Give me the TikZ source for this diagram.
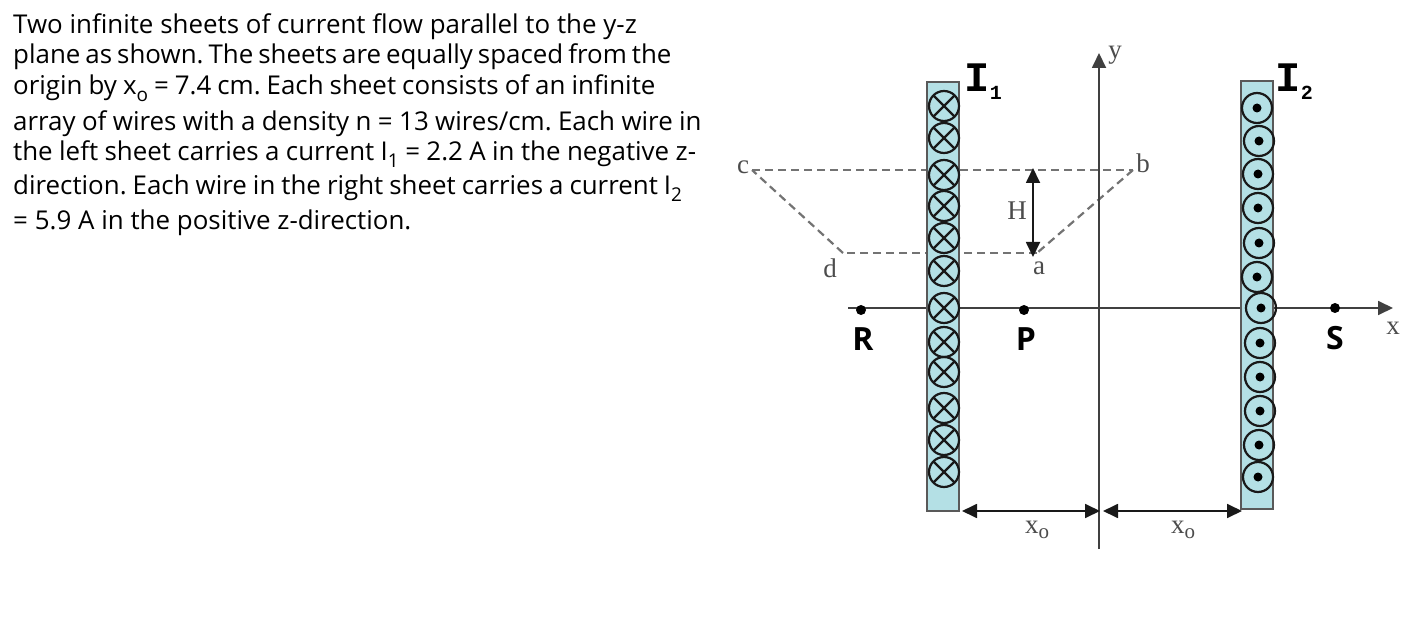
\documentclass[tikz,border=0pt]{standalone}
\usepackage{fontspec}
\setmainfont{Open Sans}
\newfontfamily\slabfont{Liberation Mono}
\newfontfamily\labelfont{Liberation Serif}
\usetikzlibrary{arrows.meta}
\definecolor{sheetblue}{RGB}{180,224,229}
\newcommand{\lowtxt}[1]{\raisebox{-6.5pt}{\fontsize{19}{19}\selectfont #1}}
\newcommand{\lowo}{\raisebox{-5pt}{\fontsize{21}{21}\selectfont o}}
\newcommand{\lowslab}[1]{\raisebox{-8pt}{\fontsize{20}{20}\selectfont #1}}
\newcommand{\wordgap}[1]{\spaceskip=#1pt\relax}
\tikzset{
    textline/.style={anchor=base west,inner sep=0pt,font=\fontsize{25.9}{28}\selectfont\frenchspacing},
    sheetbox/.style={draw=black!65,fill=sheetblue,line width=1.5pt,minimum width=32pt,inner sep=0pt},
    wirein/.style={circle,draw=black!90,line width=2.2pt,minimum size=30pt,inner sep=0pt,
        path picture={
            \draw[line width=2.2pt] (path picture bounding box.north west) -- (path picture bounding box.south east);
            \draw[line width=2.2pt] (path picture bounding box.north east) -- (path picture bounding box.south west);
        }},
    wireout/.style={circle,draw=black!90,line width=2.2pt,minimum size=30pt,inner sep=0pt,
        path picture={\fill (path picture bounding box.center) circle (4.5pt);}},
    axisline/.style={draw=black!75,line width=1.8pt},
    dashline/.style={draw=black!55,line width=2.2pt,dash pattern=on 8pt off 5pt},
    markdot/.style={circle,fill=black,minimum size=10pt,inner sep=0pt},
    seriflabel/.style={inner sep=0pt,text=black!70,font=\labelfont\fontsize{27}{27}\selectfont},
    sanslabel/.style={inner sep=0pt,font=\fontsize{32}{32}\selectfont\bfseries},
    slablabel/.style={anchor=base west,inner sep=0pt,font=\slabfont\bfseries\fontsize{42}{42}\selectfont},
    bigarrow/.style={-{Triangle[length=15pt,width=14pt]}},
    twoarrow/.style={{Triangle[length=15pt,width=14pt]}-{Triangle[length=15pt,width=14pt]},draw=black!90,line width=1.8pt}
}
\begin{document}
\begin{tikzpicture}[x=1pt,y=-1pt]

    % Fix the page to the size of the picture
    \useasboundingbox (0,0) rectangle (1416,620);

    % Problem text, one node for each line
    \node[textline] (line1) at (13,34) {\wordgap{6.8}Two infinite sheets of current flow parallel to the y-z};
    \node[textline] (line2) at (13,64) {\wordgap{5.0}plane as shown. The sheets are equally spaced from the};
    \node[textline] (line3) at (13,95) {\wordgap{6.0}origin by x\lowtxt{o} = 7.4 cm. Each sheet consists of an infinite};
    \node[textline] (line4) at (13,131) {\wordgap{6.4}array of wires with a density n = 13 wires/cm. Each wire in};
    \node[textline] (line5) at (13,161) {\wordgap{6.4}the left sheet carries a current I\lowtxt{1} = 2.2 A in the negative z-};
    \node[textline] (line6) at (13,195) {\wordgap{6.0}direction. Each wire in the right sheet carries a current I\lowtxt{2}};
    \node[textline] (line7) at (13,230) {\wordgap{6.8}= 5.9 A in the positive z-direction.};

    % Corners of the loop
    \coordinate (c) at (752,170);
    \coordinate (b) at (1133,170);
    \coordinate (d) at (843,253);
    \coordinate (a) at (1037,253);

    % Ends of the axes
    \coordinate (xstart) at (848,308);
    \coordinate (xend) at (1393,308);
    \coordinate (ystart) at (1099,549);
    \coordinate (yend) at (1099,53);

    % Draw the dashed loop
    \draw[dashline] (c) -- (b);
    \draw[dashline] (b) -- (a);
    \draw[dashline] (a) -- (d);
    \draw[dashline] (d) -- (c);

    % Draw the axes
    \draw[axisline,bigarrow] (xstart) -- (xend);
    \draw[axisline,bigarrow] (ystart) -- (yend);

    % Draw the two sheets
    \node[sheetbox,minimum height=429pt] (sheetL) at (943,296.5) {};
    \node[sheetbox,minimum height=428pt] (sheetR) at (1257,295) {};

    % Wires going into the page
    \foreach \wy in {106,138,175,206,238,271,308,342,372,408,440,472}
        \node[wirein] (in\wy) at (944,\wy) {};

    % Wires coming out of the page
    \foreach \wx/\wy in {1257/108,1259/141,1258/174,1258/208,1259/243,1257/277,1261/308,1260/343,1260/377,1260/411,1259/445,1258/477}
        \node[wireout] (out\wy) at (\wx,\wy) {};

    % Points on the x axis
    \node[markdot] (R) at (861,310) {};
    \node[markdot] (P) at (1024,310) {};
    \node[markdot] (S) at (1335,308) {};
    \node[sanslabel] (Rlabel) at (863,339) {R};
    \node[sanslabel] (Plabel) at (1026,339) {P};
    \node[sanslabel] (Slabel) at (1335,338) {S};

    % Height marker between the two sides of the loop
    \coordinate (Htop) at (1033,168);
    \coordinate (Hbot) at (1033,257);
    \draw[twoarrow] (Htop) -- (Hbot);
    \node[seriflabel] (Hlabel) at (1017,211) {H};

    % Distance markers on either side of the y axis
    \coordinate (xoL) at (962,511);
    \coordinate (xoM1) at (1100,511);
    \coordinate (xoM2) at (1103,511);
    \coordinate (xoR) at (1242,511);
    \draw[twoarrow] (xoL) -- (xoM1);
    \draw[twoarrow] (xoM2) -- (xoR);
    \node[seriflabel] (xolabelL) at (1037,530) {x\lowo};
    \node[seriflabel] (xolabelR) at (1183,530) {x\lowo};

    % Letters at the loop corners and on the axes
    \node[seriflabel] (clabel) at (743,167) {c};
    \node[seriflabel] (blabel) at (1143,163) {b};
    \node[seriflabel] (dlabel) at (830,268) {d};
    \node[seriflabel] (alabel) at (1039,268) {a};
    \node[seriflabel] (ylabel) at (1115,55) {y};
    \node[seriflabel] (xlabel) at (1393,328) {x};

    % Current labels above the sheets
    \node[slablabel] (I1) at (964.5,92) {I\lowslab{1}};
    \node[slablabel] (I2) at (1275.5,92) {I\lowslab{2}};

\end{tikzpicture}
\end{document}
